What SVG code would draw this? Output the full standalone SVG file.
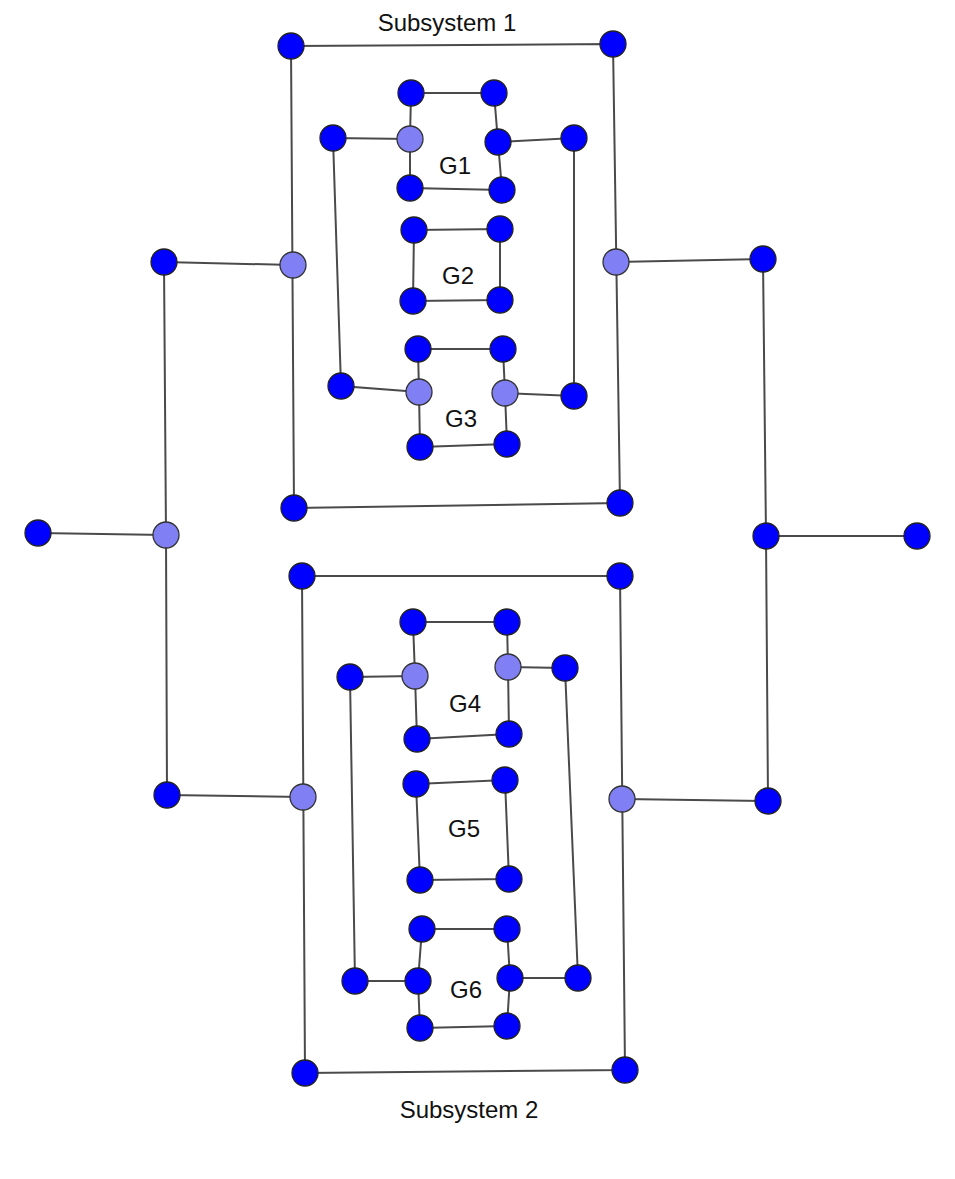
<svg xmlns="http://www.w3.org/2000/svg" width="955" height="1179" viewBox="0 0 955 1179">
<style>
.e{stroke:#4a4a4a;stroke-width:2;fill:none}
.d{fill:#0000ff;stroke:#222;stroke-width:1.3}
.l{fill:#8080f4;stroke:#333;stroke-width:1.3}
text{font-family:"Liberation Sans",Arial,sans-serif;font-size:24px;fill:#111;text-anchor:middle}
</style>
<rect width="955" height="1179" fill="#fff"/>
<g id="connectors" class="e">
<polyline points="291,46 613,44 620,503 294,508 291,46"/>
<polyline points="293,265 164,262 166,535 167,795 303,797"/>
<line x1="38" y1="533" x2="166" y2="535"/>
<polyline points="616,262 763,259 766,536 768,801 622,799"/>
<line x1="766" y1="536" x2="917" y2="536"/>
<polyline points="302,576 620,576 625,1070 305,1073 302,576"/>
<polyline points="410,139 333,138 341,386 419,392"/>
<polyline points="498,142 574,138 574,396 505,393"/>
<polyline points="411,93 494,93 498,142 502,190 410,188 410,139 411,93"/>
<polyline points="414,230 500,229 500,300 413,301 414,230"/>
<polyline points="418,349 503,349 505,393 507,444 420,447 419,392 418,349"/>
<polyline points="415,676 350,677 355,981 418,981"/>
<polyline points="508,667 565,668 578,978 510,978"/>
<polyline points="413,622 507,622 508,667 509,734 417,739 415,676 413,622"/>
<polyline points="416,784 505,780 509,879 420,880 416,784"/>
<polyline points="422,929 507,929 510,978 507,1026 420,1028 418,981 422,929"/>
</g>
<g id="outer-nodes">
<circle class="d" cx="291" cy="46" r="13"/><circle class="d" cx="613" cy="44" r="13"/>
<circle class="d" cx="620" cy="503" r="13"/><circle class="d" cx="294" cy="508" r="13"/>
<circle class="l" cx="293" cy="265" r="13"/><circle class="l" cx="616" cy="262" r="13"/>
<circle class="d" cx="164" cy="262" r="13"/><circle class="l" cx="166" cy="535" r="13"/>
<circle class="d" cx="167" cy="795" r="13"/><circle class="d" cx="38" cy="533" r="13"/>
<circle class="d" cx="763" cy="259" r="13"/><circle class="d" cx="766" cy="536" r="13"/>
<circle class="d" cx="768" cy="801" r="13"/><circle class="d" cx="917" cy="536" r="13"/>
<circle class="d" cx="302" cy="576" r="13"/><circle class="d" cx="620" cy="576" r="13"/>
<circle class="d" cx="625" cy="1070" r="13"/><circle class="d" cx="305" cy="1073" r="13"/>
<circle class="l" cx="303" cy="797" r="13"/><circle class="l" cx="622" cy="799" r="13"/>
<circle class="d" cx="333" cy="138" r="13"/><circle class="d" cx="341" cy="386" r="13"/>
<circle class="d" cx="574" cy="138" r="13"/><circle class="d" cx="574" cy="396" r="13"/>
<circle class="d" cx="350" cy="677" r="13"/><circle class="d" cx="355" cy="981" r="13"/>
<circle class="d" cx="565" cy="668" r="13"/><circle class="d" cx="578" cy="978" r="13"/>
</g>
<g id="G1">
<circle class="d" cx="411" cy="93" r="13"/><circle class="d" cx="494" cy="93" r="13"/>
<circle class="l" cx="410" cy="139" r="13"/><circle class="d" cx="498" cy="142" r="13"/>
<circle class="d" cx="410" cy="188" r="13"/><circle class="d" cx="502" cy="190" r="13"/>
<text x="455" y="174">G1</text></g>
<g id="G2">
<circle class="d" cx="414" cy="230" r="13"/><circle class="d" cx="500" cy="229" r="13"/>
<circle class="d" cx="413" cy="301" r="13"/><circle class="d" cx="500" cy="300" r="13"/>
<text x="458" y="284">G2</text></g>
<g id="G3">
<circle class="d" cx="418" cy="349" r="13"/><circle class="d" cx="503" cy="349" r="13"/>
<circle class="l" cx="419" cy="392" r="13"/><circle class="l" cx="505" cy="393" r="13"/>
<circle class="d" cx="420" cy="447" r="13"/><circle class="d" cx="507" cy="444" r="13"/>
<text x="461" y="427">G3</text></g>
<g id="G4">
<circle class="d" cx="413" cy="622" r="13"/><circle class="d" cx="507" cy="622" r="13"/>
<circle class="l" cx="415" cy="676" r="13"/><circle class="l" cx="508" cy="667" r="13"/>
<circle class="d" cx="417" cy="739" r="13"/><circle class="d" cx="509" cy="734" r="13"/>
<text x="465" y="712">G4</text></g>
<g id="G5">
<circle class="d" cx="416" cy="784" r="13"/><circle class="d" cx="505" cy="780" r="13"/>
<circle class="d" cx="420" cy="880" r="13"/><circle class="d" cx="509" cy="879" r="13"/>
<text x="464" y="837">G5</text></g>
<g id="G6">
<circle class="d" cx="422" cy="929" r="13"/><circle class="d" cx="507" cy="929" r="13"/>
<circle class="d" cx="418" cy="981" r="13"/><circle class="d" cx="510" cy="978" r="13"/>
<circle class="d" cx="420" cy="1028" r="13"/><circle class="d" cx="507" cy="1026" r="13"/>
<text x="466" y="998">G6</text></g>
<text x="447" y="31">Subsystem 1</text>
<text x="469" y="1118">Subsystem 2</text>
</svg>
